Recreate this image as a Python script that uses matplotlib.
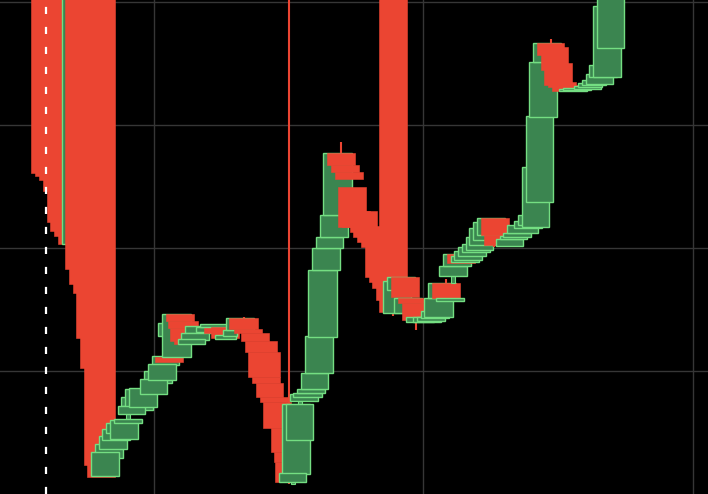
import matplotlib
matplotlib.use("Agg")
import matplotlib.pyplot as plt

# candles in drawing order: start time, end time, open, close
t_start = [3.13, 3.50, 3.90, 4.30, 4.67, 5.00, 5.40, 5.80, 6.17, 6.50,
           6.90, 7.30, 7.63, 8.00, 8.37, 8.73, 9.53, 9.90, 10.23, 10.63,
           9.13, 11.03, 11.43, 12.13, 12.53, 11.77, 13.27, 12.90, 14.40, 14.03,
           15.17, 14.80, 15.50, 15.83, 16.23, 16.60, 16.80, 17.00, 17.40, 18.50,
           18.10, 17.77, 19.57, 20.40, 20.00, 21.10, 21.50, 22.27, 22.60, 22.93,
           23.37, 24.10, 24.50, 24.83, 25.23, 25.60, 26.00, 26.33, 27.10, 27.43,
           27.53, 28.23, 28.60, 27.90, 29.00, 29.33, 29.73, 30.10, 30.50, 30.83,
           31.23, 31.60, 32.00, 32.33, 32.73, 33.10, 33.50, 33.83, 34.23, 35.00,
           35.33, 35.73, 36.10, 36.50, 36.90, 37.23, 37.57, 37.93, 38.33, 38.73,
           39.07, 39.43, 39.83, 40.23, 40.60, 41.30, 41.67, 42.10, 42.43, 42.83,
           43.17, 43.57, 43.93, 44.33, 44.73, 45.10, 45.43, 45.83, 46.23, 46.57,
           46.93, 47.33, 47.73, 48.10, 48.43, 49.60, 50.00, 50.33, 50.73, 51.43,
           51.83, 52.17, 52.57, 52.93, 53.33, 53.73, 54.07, 54.40, 54.80, 55.17,
           55.90, 56.33, 57.40, 57.83, 58.23, 58.60, 58.93, 59.33, 59.67]
t_end = [5.93, 6.30, 6.70, 7.10, 7.47, 7.80, 8.20, 8.60, 8.97, 9.30,
         9.70, 10.10, 10.43, 10.80, 11.17, 11.53, 12.33, 12.70, 13.03, 13.43,
         11.90, 13.77, 14.17, 14.90, 15.27, 14.50, 16.00, 15.67, 17.17, 16.73,
         17.90, 17.57, 18.27, 18.60, 19.07, 19.43, 19.77, 19.80, 20.20, 21.30,
         20.90, 20.50, 22.37, 23.20, 22.67, 23.90, 23.57, 23.73, 25.40, 25.77,
         26.17, 26.90, 27.67, 28.00, 28.00, 28.33, 28.80, 29.10, 29.90, 30.20,
         30.30, 31.00, 31.33, 30.60, 31.77, 32.17, 32.50, 32.83, 33.27, 33.67,
         34.00, 34.33, 34.77, 35.17, 35.50, 35.90, 36.27, 36.60, 37.03, 37.73,
         38.13, 38.53, 38.90, 39.30, 39.70, 40.03, 40.37, 40.73, 41.10, 41.50,
         41.90, 42.20, 42.50, 43.00, 43.40, 44.10, 44.50, 44.90, 45.27, 45.63,
         46.00, 46.40, 46.73, 47.13, 47.53, 47.90, 48.23, 48.63, 49.03, 49.33,
         49.73, 50.13, 50.53, 50.90, 50.33, 52.33, 52.73, 53.10, 53.83, 54.20,
         54.60, 54.93, 55.33, 55.67, 56.10, 56.43, 56.83, 57.20, 57.57, 57.90,
         58.67, 59.10, 60.10, 60.17, 60.57, 61.33, 61.70, 62.07, 62.43]
p_open = [55.4, 55.4, 55.4, 55.4, 55.4, 55.4, 55.4, 55.4, 25.0, 55.4,
          55.4, 55.4, 55.4, 55.4, 55.4, 55.4, 3.6, 4.5, 5.4, 6.1,
          1.8, 5.5, 7.1, 8.8, 8.4, 8.0, 10.6, 8.7, 11.1, 10.0,
          12.9, 11.4, 13.7, 15.8, 13.7, 18.0, 17.3, 16.6, 15.8, 16.1,
          15.4, 15.0, 16.2, 16.7, 16.7, 16.7, 15.5, 15.8, 16.4, 17.6,
          16.5, 16.1, 15.3, 14.2, 11.7, 11.1, 9.7, 9.2, 6.6, 4.2,
          3.2, 2.0, 5.4, 1.2, 9.3, 9.7, 10.1, 10.5, 12.1, 15.7,
          22.4, 24.6, 25.7, 27.9, 34.1, 32.9, 32.2, 30.7, 28.3, 28.3,
          26.8, 26.3, 25.8, 24.8, 22.4, 21.8, 21.2, 55.4, 18.1, 20.4,
          21.7, 18.1, 19.6, 19.1, 17.2, 17.2, 17.3, 17.6, 17.7, 19.6,
          21.1, 19.3, 21.8, 22.8, 24.0, 23.2, 23.4, 23.8, 24.2, 24.4,
          24.9, 25.4, 25.9, 27.6, 25.9, 24.8, 25.5, 25.7, 26.1, 26.6,
          26.9, 26.7, 29.2, 37.7, 43.2, 45.1, 44.7, 43.1, 41.2, 40.9,
          40.3, 40.4, 40.5, 40.7, 40.9, 41.0, 41.7, 41.7, 44.6]
p_close = [32.1, 31.8, 31.4, 30.3, 27.2, 26.3, 25.8, 25.0, 55.4, 22.5,
           21.0, 20.1, 15.6, 12.6, 2.9, 1.7, 5.0, 5.8, 6.5, 7.1,
           4.2, 7.4, 7.5, 9.7, 10.5, 8.8, 10.0, 10.6, 12.3, 11.5,
           13.8, 13.0, 13.2, 17.1, 18.0, 17.3, 16.6, 15.3, 15.0, 16.8,
           16.1, 15.5, 16.7, 16.1, 17.0, 15.6, 15.9, 16.4, 17.6, 16.5,
           16.1, 15.3, 14.2, 11.7, 11.1, 9.7, 9.2, 6.6, 4.2, 3.2,
           1.2, 9.0, 9.0, 2.1, 10.0, 10.1, 10.5, 12.1, 15.8, 22.4,
           24.6, 25.7, 27.9, 34.1, 32.9, 32.2, 31.5, 26.7, 26.7, 26.2,
           25.7, 25.2, 24.7, 21.7, 21.2, 20.6, 19.4, 18.2, 21.3, 21.7,
           19.7, 19.6, 19.1, 17.4, 17.7, 17.7, 17.7, 18.3, 19.6, 21.1,
           19.6, 19.6, 22.8, 24.0, 23.1, 23.8, 24.3, 24.7, 25.0, 25.7,
           26.6, 27.2, 27.6, 25.9, 24.9, 25.5, 25.8, 26.1, 26.9, 27.3,
           27.9, 32.7, 37.8, 43.2, 45.1, 43.9, 42.4, 40.9, 40.7, 40.3,
           40.5, 40.6, 40.8, 41.1, 41.4, 42.0, 42.9, 48.8, 55.4]
# visible wicks, keyed by candle index
wick_high = {22: 8.0, 49: 17.7, 60: 55.4, 62: 9.4, 74: 35.2, 100: 21.5, 125: 45.5}
wick_low = {60: 1.0, 63: 1.0, 87: 17.8, 93: 16.4, 102: 21.1, 114: 24.7}

marker_time = 4.6

UP_FILL, UP_EDGE = '#3b8550', '#74de82'
DOWN_FILL = '#eb4532'

fig = plt.figure(figsize=(7.08, 4.94), dpi=100, facecolor='black')
ax = fig.add_axes([0, 0, 1, 1])
ax.set_facecolor('black')
ax.set_xlim(0, 70.8)
ax.set_ylim(0, 49.4)
for s in ax.spines.values():
    s.set_visible(False)
ax.set_xticks([])
ax.set_yticks([])

for gx in [15.37, 42.33, 69.33]:
    ax.axvline(gx, color='#363636', lw=1.0, zorder=0)
for gy in [12.27, 24.57, 36.87, 49.17]:
    ax.axhline(gy, color='#363636', lw=1.0, zorder=0)

for i in range(len(t_start)):
    o, c = p_open[i], p_close[i]
    up = c >= o
    z = 2 + i
    mid = (t_start[i] + t_end[i]) / 2
    lo, hi = min(o, c), max(o, c)
    for a, b in [(hi, wick_high.get(i)), (wick_low.get(i), lo)]:
        if a is None or b is None:
            continue
        if up:
            ax.bar(mid - 0.2, b - a, width=0.4, bottom=a, align='edge',
                   color=UP_FILL, edgecolor=UP_EDGE, linewidth=0.8, zorder=z)
        else:
            ax.vlines(mid, a, b, color=DOWN_FILL, linewidth=1.5, zorder=z)
    if up:
        ax.bar(t_start[i], hi - lo, width=t_end[i] - t_start[i], bottom=lo,
               align='edge', color=UP_FILL, edgecolor=UP_EDGE,
               linewidth=1.0, zorder=z)
    else:
        ax.bar(t_start[i], hi - lo, width=t_end[i] - t_start[i], bottom=lo,
               align='edge', color=DOWN_FILL, edgecolor=DOWN_FILL,
               linewidth=0.4, zorder=z)

ax.axvline(marker_time, color='white', lw=1.6, dashes=(3.2, 5.8), zorder=500)

fig.savefig('out.png', dpi=100, facecolor='black')
